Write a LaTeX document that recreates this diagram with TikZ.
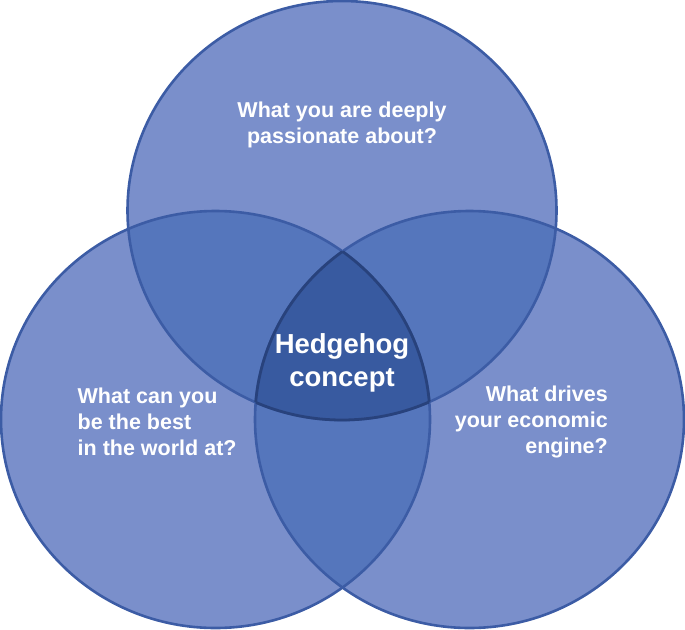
\documentclass[tikz,border=0pt]{standalone}
\usepackage{fontspec}
\setmainfont{Liberation Sans}
\definecolor{vennOne}{RGB}{122,143,203}
\definecolor{vennTwo}{RGB}{85,118,188}
\definecolor{vennThree}{RGB}{56,90,160}
\definecolor{vennRim}{RGB}{60,92,165}
\definecolor{vennCore}{RGB}{40,66,124}
\tikzset{
  lbl/.style={text=white,font=\bfseries\fontsize{21.5}{26}\selectfont,inner sep=0pt},
  hub/.style={text=white,font=\bfseries\fontsize{27.5}{33.5}\selectfont,inner sep=0pt,align=center}
}
\begin{document}
\begin{tikzpicture}[x=1pt,y=-1pt]
\useasboundingbox (0,0) rectangle (685,629);
\def\topE{(342,210.5) ellipse [x radius=214.5, y radius=209.5]}
\def\leftE{(215.5,419.5) ellipse [x radius=214.5, y radius=208.5]}
\def\rightE{(469.5,419.5) ellipse [x radius=214.5, y radius=208.5]}
% single fills
\fill[vennOne] \topE;
\fill[vennOne] \leftE;
\fill[vennOne] \rightE;
% pairwise overlaps
\begin{scope}\clip \topE; \fill[vennTwo] \leftE; \fill[vennTwo] \rightE;\end{scope}
\begin{scope}\clip \leftE; \fill[vennTwo] \rightE;\end{scope}
% triple
\begin{scope}\clip \topE; \clip \leftE; \fill[vennThree] \rightE;\end{scope}
% outlines
\draw[vennRim,line width=2.6pt] \topE;
\draw[vennRim,line width=2.6pt] \leftE;
\draw[vennRim,line width=2.6pt] \rightE;
% core outline
\begin{scope}\clip \leftE; \clip \rightE; \draw[vennCore,line width=2.8pt] \topE;\end{scope}
\begin{scope}\clip \topE; \clip \rightE; \draw[vennCore,line width=2.8pt] \leftE;\end{scope}
\begin{scope}\clip \topE; \clip \leftE; \draw[vennCore,line width=2.8pt] \rightE;\end{scope}
% texts
\node[lbl,align=center] (top) at (342,124.5) {What you are deeply\\passionate about?};
\node[lbl,align=left,anchor=west] (left) at (77.5,421.7) {What can you\\be the best\\in the world at?};
\node[lbl,align=right,anchor=east] (right) at (608,421.7) {What drives\\your economic\\engine?};
\node[hub] (hub) at (342,363) {Hedgehog\\concept};
\end{tikzpicture}
\end{document}
